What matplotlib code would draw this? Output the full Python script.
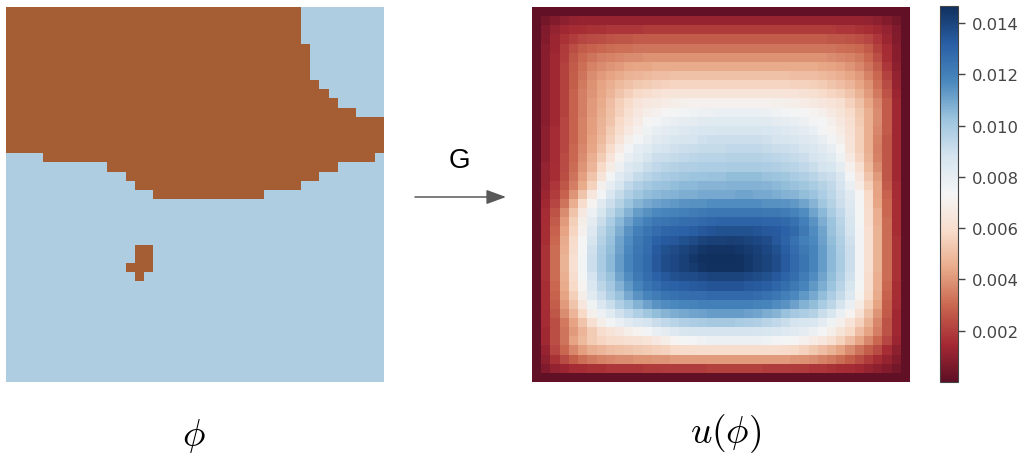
import numpy as np
import matplotlib
matplotlib.use("Agg")
import matplotlib.pyplot as plt
from matplotlib.colors import ListedColormap, LinearSegmentedColormap

W, H = 1036, 460

# phi field: brown cells per row, as (row, first col, last col + 1)
phi_size = 41
phi_spans = [
    (0, 0, 32), (1, 0, 32), (2, 0, 32), (3, 0, 32),
    (4, 0, 33), (5, 0, 33), (6, 0, 33), (7, 0, 33),
    (8, 0, 34), (9, 0, 35), (10, 0, 36), (11, 0, 38),
    (12, 0, 41), (13, 0, 41), (14, 0, 41), (15, 0, 41),
    (16, 4, 40), (17, 11, 36), (18, 13, 34), (19, 14, 32), (20, 16, 28),
    (26, 14, 16), (27, 14, 16), (28, 13, 16), (29, 14, 15),
]

# u(phi), in units of 1e-4
u_rows = [
    [1]*41,
    [1,5,8,10,11,12,12,12,12,12, 12,12,12,12,12,12,12,12,12,12, 12,12,12,12,12,12,12,12,12,12, 12,12,12,12,12,12,11,10,8,5,1],
    [1,7,11,14,15,16,17,17,18,18, 18,18,19,19,19,19,19,19,19,19, 19,19,19,19,19,19,19,19,19,19, 19,19,19,18,18,17,16,14,11,7,1],
    [1,8,13,17,20,22,23,24,25,26, 26,27,27,27,27,27,27,27,27,27, 27,27,27,27,27,27,27,27,27,27, 27,27,26,26,25,24,22,18,13,8,1],
    [1,9,13,19,24,27,29,30,31,32, 32,33,33,33,33,33,33,33,33,33, 33,33,33,33,33,33,33,33,33,33, 33,33,33,32,31,30,27,21,15,9,1],
    [1,9,14,20,26,30,33,35,36,37, 38,38,39,39,39,39,39,39,39,39, 39,39,39,39,39,39,39,39,39,39, 39,39,38,37,36,34,30,24,16,9,1],
    [1,9,14,21,27,32,36,38,40,41, 43,44,44,45,45,45,45,45,45,45, 45,45,45,45,45,45,45,45,45,45, 45,44,43,42,40,37,33,27,18,10,1],
    [1,9,14,21,28,33,38,41,43,45, 47,48,49,50,50,51,51,51,51,51, 51,51,51,51,51,51,51,51,50,50, 50,49,48,46,44,41,36,30,21,11,1],
    [1,9,14,21,28,34,39,43,46,49, 51,53,54,55,56,57,57,57,57,57, 57,57,57,57,57,57,57,57,56,56, 55,54,52,50,48,44,39,32,23,12,1],
    [1,9,14,21,29,35,40,44,48,52, 55,58,60,62,63,64,64,64,64,64, 64,64,64,64,64,64,64,63,63,62, 61,59,57,55,52,47,41,34,25,13,1],
    [1,9,14,21,29,35,41,45,50,55, 59,63,66,67,68,69,70,71,71,71, 71,71,71,71,71,71,70,70,69,68, 67,65,63,61,56,51,44,37,27,14,1],
    [1,9,14,21,29,35,41,46,51,56, 61,66,69,71,73,74,75,76,77,77, 78,78,78,78,78,77,76,75,74,73, 72,70,67,64,59,53,46,38,27,14,1],
    [1,9,14,22,29,36,42,47,52,58, 63,68,73,75,77,79,80,81,82,83, 83,83,83,83,83,82,81,80,79,77, 75,73,70,66,61,54,46,38,27,14,1],
    [1,10,15,22,29,36,42,48,54,60, 66,71,76,79,81,83,84,85,86,86, 87,87,87,87,87,86,85,84,82,81, 78,75,72,68,62,55,46,37,27,14,1],
    [1,10,15,22,29,36,43,49,56,63, 70,75,79,82,84,86,87,88,89,90, 90,90,90,90,90,89,88,87,86,84, 82,79,75,70,63,55,46,36,26,14,1],
    [1,10,15,22,30,37,44,51,59,68, 75,80,83,86,88,89,90,91,92,92, 92,93,93,93,93,92,91,90,89,87, 85,82,79,73,64,55,46,35,26,14,1],
    [1,10,15,23,30,38,46,54,63,72, 79,83,87,90,91,92,93,94,95,95, 95,96,96,96,96,95,94,93,92,90, 88,85,83,76,67,57,47,36,26,14,1],
    [1,11,16,23,31,40,48,58,68,77, 84,87,91,93,95,96,97,97,98,98, 98,99,99,99,99,98,97,96,95,93, 91,88,86,80,71,61,49,38,26,14,1],
    [1,11,16,24,33,42,52,64,75,82, 88,92,95,97,99,100,101,102,102,103, 103,104,104,104,104,103,102,101,99,97, 95,92,90,85,75,65,52,41,26,14,1],
    [1,12,18,26,35,45,56,70,80,87, 93,97,100,102,103,104,105,105,106,106, 106,107,107,107,107,106,105,104,103,101, 99,96,93,88,78,68,55,43,27,15,1],
    [1,13,20,29,40,52,65,75,85,92, 97,101,104,105,106,107,108,108,109,109, 109,109,110,110,109,109,108,107,106,104, 102,98,94,89,82,73,58,43,29,15,1],
    [1,14,22,33,46,60,72,82,90,96, 102,106,109,111,112,113,114,115,115,116, 116,116,116,116,116,115,115,114,113,110, 106,101,96,90,84,73,59,44,30,16,1],
    [1,15,25,38,52,66,77,87,94,101, 107,112,115,117,118,119,120,121,122,123, 123,123,123,123,123,122,122,121,119,116, 110,105,99,93,85,74,60,46,30,16,1],
    [1,15,27,41,55,69,81,91,98,105, 111,116,120,123,124,125,126,127,128,129, 130,130,130,130,130,129,129,128,125,120, 114,108,102,95,87,74,60,46,31,16,1],
    [1,16,29,43,57,71,84,94,101,108, 114,120,124,127,129,130,131,132,134,135, 136,136,136,136,135,134,133,131,128,122, 116,110,103,96,88,75,61,47,31,16,1],
    [1,16,30,45,59,73,87,96,103,110, 116,122,126,131,133,134,136,138,140,141, 141,142,141,140,139,137,134,130,125,120, 117,111,104,97,89,75,61,47,31,17,1],
    [1,17,31,46,60,74,89,98,104,111, 117,123,127,133,136,138,140,142,144,145, 145,145,144,143,141,139,136,132,127,122, 118,112,105,98,90,75,61,47,31,17,1],
    [1,17,31,47,61,75,90,99,105,112, 118,124,128,134,137,139,141,144,146,147, 147,147,146,144,142,140,137,133,128,124, 118,112,105,99,90,75,61,47,31,17,1],
    [1,17,31,47,61,75,90,99,105,112, 118,124,128,134,137,139,141,143,145,146, 146,146,146,144,142,140,137,133,128,124, 118,112,105,99,90,75,61,47,31,17,1],
    [1,17,31,46,60,74,88,97,103,110, 116,122,127,131,134,136,137,138,139,140, 140,140,140,139,138,136,134,130,126,121, 116,110,104,97,89,75,60,46,31,17,1],
    [1,16,30,45,58,72,85,94,100,107, 113,119,124,127,130,131,132,133,134,135, 135,135,135,134,133,132,129,126,122,118, 113,108,102,95,87,74,60,46,30,16,1],
    [1,16,29,43,55,69,82,90,97,103, 109,114,118,121,124,125,126,127,127,128, 128,128,128,128,127,125,123,120,117,113, 109,104,98,92,84,72,58,45,29,16,1],
    [1,16,28,41,52,65,76,85,91,97, 102,107,111,114,116,117,118,119,120,120, 120,120,120,120,119,118,116,114,111,107, 104,99,94,88,78,68,55,43,28,15,1],
    [1,15,26,38,48,58,70,77,83,89, 93,97,101,104,106,108,109,110,111,112, 112,112,112,111,110,108,106,103,100,98, 96,91,86,78,72,62,51,40,27,14,1],
    [1,15,24,34,43,52,61,69,75,78, 82,85,88,91,93,95,97,98,99,100, 100,100,99,98,97,95,93,91,88,86, 85,81,76,70,63,56,47,37,25,14,1],
    [1,14,24,33,41,48,54,60,63,66, 69,72,75,78,81,84,86,87,88,88, 88,88,88,88,87,86,85,84,82,80, 77,73,69,64,58,50,43,35,25,14,1],
    [1,14,24,33,43,49,54,57,59,60, 61,62,63,66,69,72,74,75,76,77, 77,77,77,77,77,76,75,74,73,71, 68,65,61,56,50,44,37,30,22,13,1],
    [1,12,22,30,37,42,46,48,50,51, 52,53,54,55,56,58,59,59,60,60, 60,60,60,60,60,60,60,59,58,56, 53,50,47,43,38,33,28,23,16,10,1],
    [1,10,17,23,28,32,34,36,37,38, 38,39,39,40,40,41,41,41,41,41, 41,41,41,41,41,41,41,41,40,39, 38,36,34,31,28,24,20,16,12,8,1],
    [1,7,11,13,15,16,17,17,18,18, 18,18,19,19,20,20,20,20,20,21, 21,21,21,21,21,20,20,20,19,19, 18,18,17,16,15,14,12,10,8,5,1],
    [1]*41,
]

cbar_ticks = [0.002, 0.004, 0.006, 0.008, 0.010, 0.012, 0.014]
cbar_labels = ["0.002", "0.004", "0.006", "0.008", "0.010", "0.012", "0.014"]
vmin, vmax = 0.0, 0.01466

# RdBu as it looks in the picture, a bit duller than the stock one
rdbu_colors = ["#5f0f25", "#a52a34", "#c8654f", "#e8a988", "#f8dccb", "#f5f5f5",
               "#d5e4ef", "#9cc4de", "#4a88bd", "#2a5fa5", "#10305e"]


def px_axes(x0, y0, x1, y1):
    # axes from pixel box, y measured from the top
    return fig.add_axes([x0 / W, 1 - y1 / H, (x1 - x0) / W, (y1 - y0) / H])


fig = plt.figure(figsize=(W / 100, H / 100), dpi=100, facecolor="white")

# overlay in pixel coords for arrow and labels
bg = fig.add_axes([0, 0, 1, 1])
bg.set_xlim(0, W)
bg.set_ylim(H, 0)
bg.axis("off")

# left panel
phi = np.zeros((phi_size, phi_size))
for row, c0, c1 in phi_spans:
    phi[row, c0:c1] = 1

ax1 = px_axes(6, 7.5, 384, 382.5)
ax1.imshow(phi, cmap=ListedColormap(["#aecde1", "#a55e34"]), aspect="auto", interpolation="nearest")
ax1.axis("off")

# right panel
u = np.array(u_rows) * 1e-4
cmap = LinearSegmentedColormap.from_list("rdbu_dull", rdbu_colors)
ax2 = px_axes(532, 7.5, 910, 382.5)
im = ax2.imshow(u, cmap=cmap, vmin=vmin, vmax=vmax, aspect="auto", interpolation="nearest")
ax2.axis("off")

# colorbar
cax = px_axes(940, 7, 958, 383)
cb = fig.colorbar(im, cax=cax)
cb.set_ticks(cbar_ticks)
cb.set_ticklabels(cbar_labels)
cb.ax.tick_params(labelsize=11.8, labelcolor="#444444", color="#444444", length=5, width=1, pad=5)
cb.outline.set_edgecolor("#444444")
cb.outline.set_linewidth(0.8)

# arrow and labels
bg.annotate("", xy=(506, 198), xytext=(415, 198),
            arrowprops=dict(arrowstyle="-|>,head_length=0.6,head_width=0.22", color="#595959",
                            lw=1.1, shrinkA=0, shrinkB=0, mutation_scale=20))
bg.text(459, 161, "G", family="Liberation Sans", fontsize=20, color="black", ha="center", va="center")
bg.text(194, 436, r"$\phi$", fontsize=27, math_fontfamily="cm", ha="center", va="center")
bg.text(726, 434, r"$u(\phi)$", fontsize=27, math_fontfamily="cm", ha="center", va="center")

fig.savefig("out.png", dpi=100)
